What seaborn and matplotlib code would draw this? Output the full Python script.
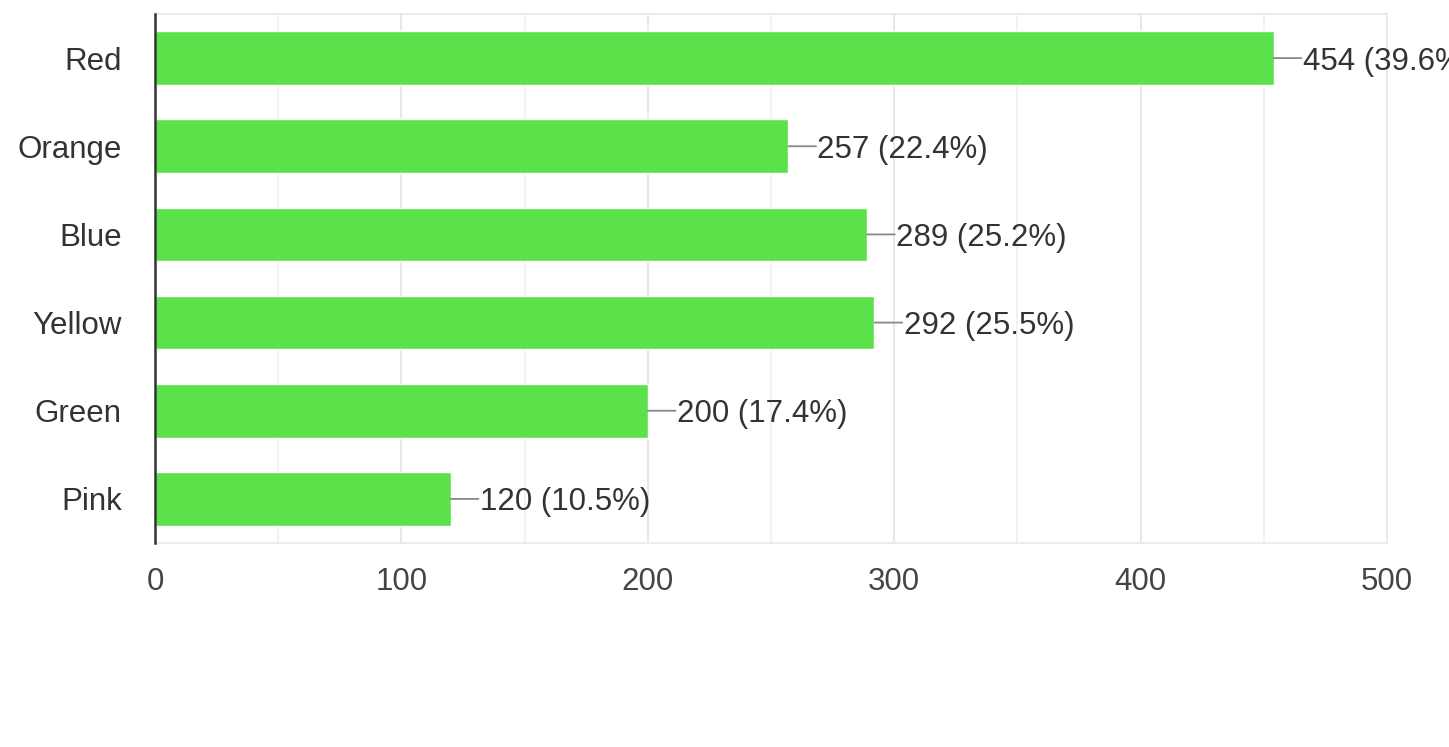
import matplotlib
matplotlib.use("Agg")
import matplotlib.pyplot as plt
import seaborn as sns
import pandas as pd

categories = ["Red", "Orange", "Blue", "Yellow", "Green", "Pink"]
counts = [454, 257, 289, 292, 200, 120]
percents = ["39.6%", "22.4%", "25.2%", "25.5%", "17.4%", "10.5%"]
x_ticks = [0, 100, 200, 300, 400, 500]

sns.set_theme(style="white")
plt.rcParams["font.family"] = ["Liberation Sans", "DejaVu Sans"]

df = pd.DataFrame({"category": categories, "count": counts})

fig = plt.figure(figsize=(14.49, 7.47), dpi=100)
ax = fig.add_axes([155 / 1449, 1 - 543 / 747, (1387 - 155) / 1449, (543 - 14) / 747])

sns.barplot(data=df, x="count", y="category", orient="h", color="#5be24a",
            saturation=1, width=0.61, ax=ax, zorder=3)

ax.set_xlim(0, 500)
ax.set_ylim(5.5, -0.5)
ax.set_xticks(x_ticks)
ax.set_xticks(range(0, 501, 50), minor=True)
ax.grid(True, axis="x", which="major", color="#e6e6e6", linewidth=1.3, zorder=0)
ax.grid(True, axis="x", which="minor", color="#f0f0f0", linewidth=1.2, zorder=0)
ax.set_axisbelow(True)
ax.set_xlabel("")
ax.set_ylabel("")
ax.tick_params(axis="x", which="both", length=0, pad=17, labelsize=22.5, labelcolor="#444444")
ax.tick_params(axis="y", length=0, pad=24, labelsize=22.5, labelcolor="#333333")

for side in ["top", "right", "bottom"]:
    ax.spines[side].set_color("#ebebeb")
    ax.spines[side].set_linewidth(1.3)
ax.spines["left"].set_color("#333333")
ax.spines["left"].set_linewidth(1.8)
ax.spines["left"].set_zorder(5)

for i, (c, p) in enumerate(zip(counts, percents)):
    # leader line
    ax.annotate("", xy=(c, i), xytext=(20, 0), textcoords="offset points",
                annotation_clip=False,
                arrowprops=dict(arrowstyle="-", color="#888888", lw=1.3,
                                shrinkA=0, shrinkB=0))
    # label
    ax.annotate(f"{c} ({p})", xy=(c, i), xytext=(21, 0), textcoords="offset points",
                ha="left", va="center_baseline", fontsize=22.5, color="#333333",
                annotation_clip=False)

fig.savefig("out.png", dpi=100, facecolor="white")
